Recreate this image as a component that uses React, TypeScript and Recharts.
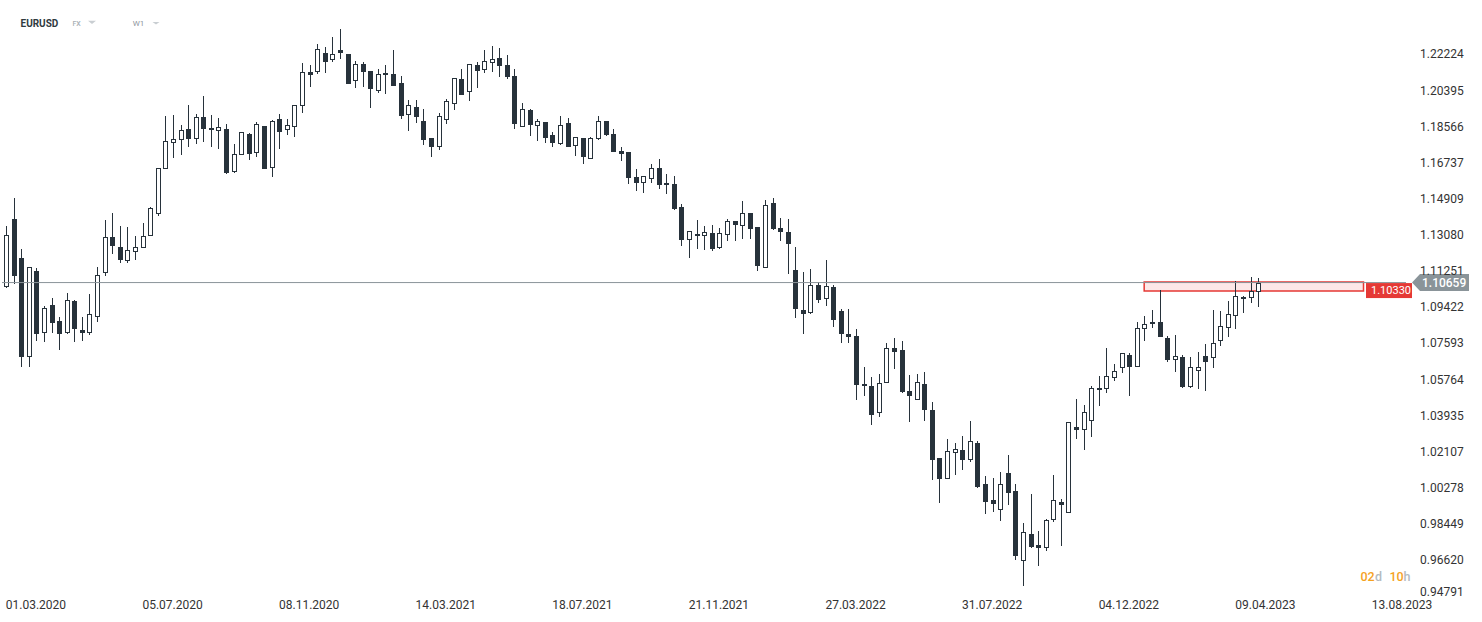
import React from "react";
import {
  ComposedChart,
  Bar,
  XAxis,
  YAxis,
  ReferenceLine,
  ReferenceArea,
} from "recharts";

// weekly EURUSD candles, first week starts 01.03.2020
const startWeek = Date.UTC(2020, 2, 1);
const emptyWeeksAfter = 19;

const opens = [
  1.1044, 1.1388, 1.119, 1.0689, 1.1125, 1.0811, 1.0953, 1.0872, 1.0811, 1.0973,
  1.0826, 1.0811, 1.0892, 1.1115, 1.1297, 1.1246, 1.1175, 1.1221, 1.1241, 1.1302,
  1.1413, 1.1641, 1.1773, 1.1788, 1.1843, 1.1793, 1.1904, 1.1848, 1.1833, 1.1843,
  1.1626, 1.1711, 1.1818, 1.1721, 1.1859, 1.1646, 1.1894, 1.1838, 1.1853, 1.196,
  1.2132, 1.2132, 1.2228, 1.2192, 1.2243, 1.2223, 1.2086, 1.2172, 1.2137, 1.2036,
  1.2127, 1.2122, 1.2076, 1.1914, 1.1955, 1.1884, 1.1798, 1.1752, 1.1889, 1.197,
  1.2096, 1.2031, 1.2167, 1.2142, 1.2177, 1.2202, 1.2167, 1.2112, 1.1853, 1.1939,
  1.1859, 1.1879, 1.1813, 1.1768, 1.1874, 1.1757, 1.1798, 1.1691, 1.1793, 1.1884,
  1.1818, 1.1732, 1.1726, 1.16, 1.157, 1.159, 1.1646, 1.156, 1.1565, 1.1448,
  1.1281, 1.1302, 1.1302, 1.1317, 1.1241, 1.1307, 1.1378, 1.1353, 1.1418, 1.1348,
  1.114, 1.1469, 1.1342, 1.1322, 1.113, 1.0927, 1.0912, 1.1054, 1.0983, 1.1044,
  1.0922, 1.0806, 1.0797, 1.0546, 1.0543, 1.0406, 1.0558, 1.0735, 1.0725, 1.0517,
  1.0472, 1.0553, 1.0421, 1.0178, 1.0072, 1.0204, 1.0219, 1.0168, 1.0254, 1.0047,
  0.9966, 0.9915, 1.0103, 1.0011, 0.9657, 0.9794, 0.9737, 0.9722, 0.9862, 0.9956,
  0.99, 1.0335, 1.032, 1.0366, 1.0522, 1.0528, 1.0583, 1.0634, 1.07, 1.0639,
  1.0831, 1.0867, 1.0867, 1.0785, 1.0674, 1.0689, 1.0538, 1.0619, 1.0695, 1.0684,
  1.077, 1.0836, 1.0897, 1.0983, 1.0988, 1.1018,
];

const highs = [
  1.1353, 1.1494, 1.1236, 1.1145, 1.114, 1.0948, 1.0988, 1.0892, 1.1013, 1.0978,
  1.0892, 1.1008, 1.1145, 1.1383, 1.1418, 1.1353, 1.1348, 1.1302, 1.1368, 1.1448,
  1.1646, 1.1909, 1.1914, 1.1864, 1.1965, 1.1919, 1.201, 1.1914, 1.1899, 1.1869,
  1.1768, 1.1828, 1.1823, 1.1879, 1.1859, 1.1889, 1.1919, 1.1894, 1.1965, 1.2177,
  1.2167, 1.2273, 1.2258, 1.2309, 1.2349, 1.2223, 1.2187, 1.2182, 1.2137, 1.2147,
  1.2167, 1.2243, 1.2112, 1.199, 1.199, 1.1944, 1.1798, 1.1924, 1.1995, 1.2101,
  1.2147, 1.2172, 1.2182, 1.2243, 1.2263, 1.2253, 1.2218, 1.2147, 1.1975, 1.1944,
  1.1894, 1.1879, 1.1828, 1.1909, 1.1899, 1.1803, 1.1798, 1.1803, 1.1909, 1.1884,
  1.1843, 1.1752, 1.1726, 1.1641, 1.1605, 1.1666, 1.1691, 1.1616, 1.1605, 1.1464,
  1.1327, 1.1383, 1.1353, 1.1358, 1.1342, 1.1388, 1.1378, 1.1479, 1.1418, 1.1348,
  1.1484, 1.1494, 1.1393, 1.1388, 1.1246, 1.112, 1.1135, 1.1069, 1.118, 1.1054,
  1.0932, 1.0932, 1.0829, 1.064, 1.0588, 1.0604, 1.076, 1.0785, 1.077, 1.0598,
  1.0604, 1.0614, 1.0462, 1.0178, 1.0275, 1.0254, 1.029, 1.0366, 1.0264, 1.0088,
  1.0077, 1.0108, 1.0194, 1.0047, 0.985, 0.9996, 0.9809, 0.987, 1.0093, 0.9971,
  1.0361, 1.0477, 1.0447, 1.0543, 1.0593, 1.0735, 1.0654, 1.071, 1.071, 1.0867,
  1.0897, 1.0927, 1.1028, 1.0796, 1.0801, 1.07, 1.0689, 1.0715, 1.0755, 1.0927,
  1.0922, 1.0973, 1.1074, 1.0998, 1.1094, 1.1089,
];

const lows = [
  1.1039, 1.1059, 1.0639, 1.0639, 1.077, 1.0765, 1.0811, 1.0725, 1.0806, 1.0765,
  1.077, 1.0801, 1.0867, 1.11, 1.121, 1.1165, 1.1165, 1.118, 1.1241, 1.1302,
  1.1403, 1.1641, 1.1696, 1.1711, 1.1752, 1.1768, 1.1778, 1.1752, 1.1742, 1.1616,
  1.1621, 1.1711, 1.1686, 1.1701, 1.1641, 1.16, 1.1742, 1.1813, 1.1803, 1.1924,
  1.2056, 1.2122, 1.2127, 1.2182, 1.2197, 1.2071, 1.2051, 1.2056, 1.195, 1.2026,
  1.2021, 1.2061, 1.1894, 1.1833, 1.1874, 1.1763, 1.1701, 1.1737, 1.1869, 1.1939,
  1.2015, 1.1985, 1.2051, 1.2127, 1.2132, 1.2106, 1.2096, 1.1843, 1.1853, 1.1808,
  1.1783, 1.1773, 1.1752, 1.1763, 1.1752, 1.1706, 1.1666, 1.1691, 1.1788, 1.1808,
  1.1726, 1.1681, 1.1565, 1.1529, 1.1519, 1.157, 1.1539, 1.1514, 1.1433, 1.1251,
  1.119, 1.1236, 1.1231, 1.1226, 1.1236, 1.1276, 1.1276, 1.1286, 1.1286, 1.1125,
  1.114, 1.1332, 1.1276, 1.111, 1.0887, 1.0806, 1.0907, 1.0963, 1.0948, 1.0842,
  1.076, 1.076, 1.0472, 1.049, 1.0346, 1.0386, 1.0558, 1.0629, 1.0507, 1.0361,
  1.0472, 1.0366, 1.0067, 0.9951, 1.0072, 1.0093, 1.0118, 1.0158, 1.0027, 0.9895,
  0.9905, 0.986, 0.9941, 0.9662, 0.9531, 0.9723, 0.9632, 0.9705, 0.9853, 0.973,
  0.99, 1.0275, 1.0219, 1.0285, 1.0442, 1.0507, 1.0568, 1.0609, 1.049, 1.0639,
  1.077, 1.0836, 1.0791, 1.0664, 1.0614, 1.0533, 1.0533, 1.0528, 1.0517, 1.0634,
  1.0745, 1.0791, 1.0831, 1.0912, 1.0963, 1.0943,
];

const closes = [
  1.1307, 1.11, 1.0689, 1.1145, 1.0806, 1.0938, 1.0862, 1.0806, 1.0978, 1.0831,
  1.0811, 1.0907, 1.1104, 1.1297, 1.1251, 1.118, 1.1231, 1.1246, 1.1302, 1.1443,
  1.1646, 1.1783, 1.1793, 1.1838, 1.1793, 1.1904, 1.1843, 1.1838, 1.1853, 1.1621,
  1.1716, 1.1828, 1.1716, 1.1869, 1.1641, 1.1884, 1.1828, 1.1864, 1.1965, 1.2132,
  1.2117, 1.2248, 1.2182, 1.2223, 1.2228, 1.2071, 1.2172, 1.2132, 1.2046, 1.2122,
  1.2117, 1.2061, 1.1909, 1.1965, 1.1904, 1.1788, 1.1752, 1.1909, 1.1985, 1.2101,
  1.2015, 1.2172, 1.2137, 1.2187, 1.2197, 1.2162, 1.2106, 1.1869, 1.1944, 1.1864,
  1.1884, 1.1798, 1.1773, 1.1864, 1.1752, 1.1803, 1.1701, 1.1798, 1.1884, 1.1813,
  1.1726, 1.1716, 1.1595, 1.157, 1.1605, 1.1646, 1.156, 1.157, 1.1438, 1.1281,
  1.1327, 1.1312, 1.1322, 1.1236, 1.1317, 1.1378, 1.1358, 1.1418, 1.1337, 1.115,
  1.1459, 1.1337, 1.1322, 1.1261, 1.0932, 1.0907, 1.1054, 1.0978, 1.1049, 1.0877,
  1.0806, 1.0791, 1.0546, 1.0552, 1.0396, 1.0558, 1.0735, 1.0715, 1.0512, 1.0492,
  1.0563, 1.0421, 1.0168, 1.0072, 1.0214, 1.0224, 1.0168, 1.0264, 1.0032, 0.9956,
  0.9946, 1.0047, 1.0001, 0.9683, 0.9804, 0.9728, 0.9722, 0.9862, 0.9966, 0.9941,
  1.0361, 1.032, 1.0411, 1.0533, 1.0533, 1.0593, 1.0619, 1.071, 1.0639, 1.0836,
  1.0857, 1.0857, 1.0791, 1.0674, 1.0695, 1.0538, 1.0639, 1.0639, 1.0664, 1.076,
  1.0846, 1.0907, 1.0998, 1.0993, 1.1023, 1.1064,
];

const xTickLabels = [
  "01.03.2020", "05.07.2020", "08.11.2020", "14.03.2021", "18.07.2021", "21.11.2021",
  "27.03.2022", "31.07.2022", "04.12.2022", "09.04.2023", "13.08.2023",
];

const yTicks = [
  0.94791, 0.9662, 0.98449, 1.00278, 1.02107, 1.03935, 1.05764, 1.07593,
  1.09422, 1.11251, 1.1308, 1.14909, 1.16737, 1.18566, 1.20395, 1.22224,
];
const yDomain = [0.94791, 1.24053];

const lastPrice = 1.10659;
const zoneLabel = 1.1033;
const zoneBottom = 1.1023;
const zoneTop = 1.1069;
// zone runs from the middle of week 15.01.2023 to the middle of week 06.08.2023 (week slots)
const zoneFrom = 150.5;
const zoneTo = 179.4;

const INK = "#27323b";
const FONT = "Roboto, 'Open Sans', sans-serif";

function weekLabel(i: number) {
  const d = new Date(startWeek + i * 7 * 86400000);
  const dd = String(d.getUTCDate()).padStart(2, "0");
  const mm = String(d.getUTCMonth() + 1).padStart(2, "0");
  return `${dd}.${mm}.${d.getUTCFullYear()}`;
}

const slots = opens.length + emptyWeeksAfter;
const data = Array.from({ length: slots }, (_, i) =>
  i < opens.length
    ? { date: weekLabel(i), slot: i + 0.5, open: opens[i], high: highs[i], low: lows[i], close: closes[i] }
    : { date: weekLabel(i), slot: i + 0.5 }
);

const Candle = (props: any) => {
  const { x, y, width, height, payload } = props;
  if (!payload || payload.open == null) return null;
  const { open, high, low, close } = payload;
  const top = Math.min(y, y + height);
  const h = Math.abs(height);
  const k = high === low ? 0 : h / (high - low);
  const yOf = (v: number) => top + (high - v) * k;
  const c = Math.round(x + width / 2);
  const bTop = Math.round(yOf(Math.max(open, close)));
  const bBot = Math.round(yOf(Math.min(open, close)));
  const up = close >= open;
  return (
    <g shapeRendering="crispEdges">
      <line x1={c + 0.5} x2={c + 0.5} y1={top} y2={top + h} stroke={INK} strokeWidth={1} />
      {up ? (
        <rect
          x={c - 1.5}
          y={bTop + 0.5}
          width={4}
          height={Math.max(1, bBot - bTop - 1)}
          fill="#fff"
          stroke={INK}
          strokeWidth={1}
        />
      ) : (
        <rect x={c - 2} y={bTop} width={5} height={Math.max(2, bBot - bTop)} fill={INK} />
      )}
    </g>
  );
};

const XTick = (props: any) => {
  const { x, y, payload } = props;
  return (
    <text x={x} y={y} dy="0.71em" textAnchor="start" fontSize={12} fontFamily={FONT} fill="#333">
      {payload.value}
    </text>
  );
};

const YTick = (props: any) => {
  const { x, y, payload } = props;
  return (
    <text x={x} y={Math.min(y, 592)} dy="0.355em" textAnchor="start" fontSize={12} fontFamily={FONT} fill="#333">
      {payload.value.toFixed(5)}
    </text>
  );
};

const PriceTag = (props: any) => {
  const { viewBox } = props;
  if (!viewBox) return null;
  const r = viewBox.x + viewBox.width;
  const y = viewBox.y;
  return (
    <g>
      <path
        d={`M${r + 6},${y} L${r + 14},${y - 8.5} L${r + 63},${y - 8.5} L${r + 63},${y + 8.5} L${r + 14},${y + 8.5} Z`}
        fill="#8a9499"
      />
      <text x={r + 16} y={y} dy="0.355em" fontSize={12} fontWeight={500} fontFamily={FONT} fill="#fff">
        {lastPrice.toFixed(5)}
      </text>
    </g>
  );
};

const ZoneTag = (props: any) => {
  const { viewBox } = props;
  if (!viewBox) return null;
  const r = viewBox.x + viewBox.width;
  const y = viewBox.y + 1.5;
  return (
    <g>
      <rect x={r - 40} y={y - 7.5} width={46} height={15} fill="#e53935" />
      <text x={r - 35} y={y} dy="0.355em" fontSize={11} fontFamily={FONT} fill="#fff">
        {zoneLabel.toFixed(5)}
      </text>
    </g>
  );
};

export default function App() {
  return (
    <div style={{ position: "absolute", left: 0, top: 0, width: 1482, height: 622, background: "#fff" }}>
      <ComposedChart
        width={1482}
        height={622}
        data={data}
        margin={{ top: 18, right: 0, bottom: 0, left: 2 }}
      >
        <XAxis
          dataKey="date"
          ticks={xTickLabels}
          interval={0}
          height={26}
          tickSize={0}
          tickMargin={4}
          axisLine={false}
          tickLine={false}
          tick={<XTick />}
        />
        <XAxis xAxisId="slot" dataKey="slot" type="number" domain={[0, slots]} hide />
        <YAxis
          orientation="right"
          type="number"
          domain={yDomain}
          ticks={yTicks}
          interval={0}
          allowDataOverflow
          width={76}
          tickSize={0}
          tickMargin={14}
          axisLine={false}
          tickLine={false}
          tick={<YTick />}
        />
        <ReferenceArea
          xAxisId="slot"
          x1={zoneFrom}
          x2={zoneTo}
          y1={zoneBottom}
          y2={zoneTop}
          fill="#fde4e4"
          fillOpacity={0.9}
          stroke="#e53935"
          strokeWidth={1.5}
        />
        <Bar
          dataKey={(d: any) => (d.open == null ? null : [d.low, d.high])}
          shape={Candle}
          barSize={6}
          isAnimationActive={false}
        />
        <ReferenceLine y={lastPrice} stroke="#8a9499" strokeWidth={1} label={<PriceTag />} />
        <ReferenceLine y={zoneLabel} stroke="none" strokeOpacity={0} label={<ZoneTag />} />
      </ComposedChart>

      <svg
        width={1482}
        height={622}
        style={{ position: "absolute", left: 0, top: 0, pointerEvents: "none" }}
      >
        <text x={20.5} y={26.7} fontSize={10} fontWeight={700} fontFamily={FONT} fill="#2f3a40">
          EURUSD
        </text>
        <text x={72.5} y={26.3} fontSize={7} fontWeight={500} fontFamily={FONT} fill="#a7afb5">
          FX
        </text>
        <polygon points="88,20.7 96,20.7 92,24" fill="#c9ced2" />
        <text x={132.7} y={26.3} fontSize={8} fontFamily={FONT} fill="#8d959b">
          W1
        </text>
        <polygon points="152.5,22 159.5,22 156,24.5" fill="#c9ced2" />
        <text y={580.7} fontSize={12.5} fontWeight={500} fontFamily={FONT}>
          <tspan x={1360.5} fill="#f5a21f">02</tspan>
          <tspan x={1375} fill="#b3bbc1">d</tspan>
          <tspan x={1389.5} fill="#f5a21f">10</tspan>
          <tspan x={1403.5} fill="#b3bbc1">h</tspan>
        </text>
      </svg>
    </div>
  );
}
